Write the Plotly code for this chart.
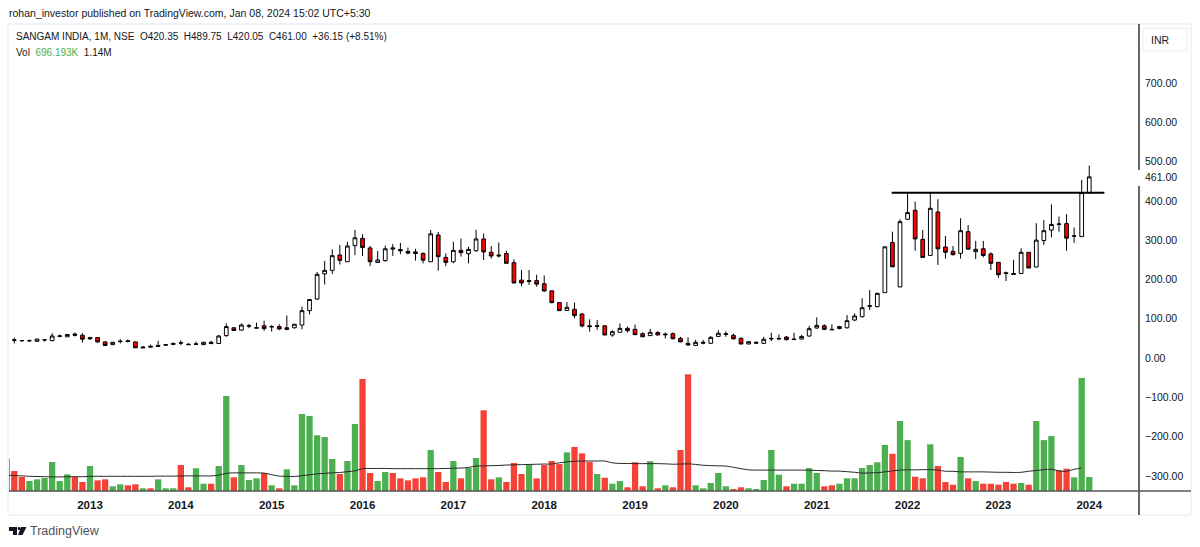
import plotly.graph_objects as go

# monthly candles, Mar 2012 .. Jan 2024 (x is bar number, TradingView spaces bars evenly)
opens = [45, 44, 44, 42.5, 46, 44, 55, 54, 61, 58, 52, 52, 41, 34, 43, 44, 41, 28, 30, 32, 34, 37, 39, 35, 36, 34, 40, 37, 57, 77, 71, 81, 76, 82, 79, 80,
         77, 77, 84, 120.5, 150, 214, 223, 262, 245, 286, 304.5, 280, 243, 247.7, 277, 276, 271, 270, 266, 245, 313, 256, 245, 274, 265.5, 273, 303, 269,
         262, 266, 242.6, 198.5, 197, 197, 189, 171, 141, 121, 124, 112, 82, 82, 82, 58.6, 65.4, 75.5, 73, 62, 57, 65, 61, 62, 50, 37.4, 32, 40, 37.4, 55,
         62, 57.7, 50, 35.7, 40, 37.4, 50, 50, 53.5, 48.4, 48.4, 56, 76.4, 82, 73, 75, 77, 96.7, 105, 133, 130.7, 166.4, 294, 180.8, 353, 376, 302, 261,
         371.6, 282.5, 271.5, 266.4, 321.5, 270.7, 278, 265, 243.5, 217, 215, 215, 269, 231.6, 299, 325.6, 340, 342, 310, 309, 420.35]
highs = [52, 46, 47, 49, 48, 63, 60, 61, 65, 63, 54, 53, 42, 41, 48, 47, 42, 31, 34, 44, 36, 40, 45, 38, 42, 41, 44, 58, 88, 78, 88, 87, 90, 95, 84, 86,
         108, 86, 131, 150, 219, 247, 276.5, 287.6, 296, 326, 315, 285, 272, 286, 290, 293, 281, 278, 269, 326, 321, 266, 296, 304, 283, 326, 317, 285,
         294, 273, 251, 224, 224, 212, 210, 171, 141, 142.5, 141, 114, 98.4, 97, 83, 71, 88, 80, 85, 65.4, 74, 68, 65, 65, 54, 52.6, 46, 46, 56, 71, 68,
         62, 52.6, 42, 42, 54, 64.5, 60, 56, 64.5, 58.6, 82, 103.5, 86, 86, 82, 109.5, 113.7, 152, 173, 166, 283, 321.5, 353, 419, 398, 326, 419, 404,
         310.5, 285, 355.5, 338.5, 298, 298, 269, 243.5, 220, 250, 279, 269, 343, 351, 391, 360, 366, 332, 453, 489.75]
lows = [37, 41, 41, 42, 42, 43, 53, 54, 55, 39, 46, 39, 31, 33, 37, 40, 26, 26, 28, 29, 32, 33, 33, 33, 33, 33, 35, 36, 54, 69, 70, 76, 76, 69, 67, 71,
        71, 75, 73, 111, 148, 187, 214, 238, 245, 262, 259.6, 234, 243, 245, 260, 264, 264, 248, 241, 245, 222, 234, 241, 258, 241, 270.6, 249.4, 253,
        256, 241, 190, 183, 186, 181.5, 169, 139, 120.5, 120, 101, 78, 67, 72, 58, 54, 65, 65, 58.6, 54, 56, 58, 50, 47.6, 41, 33, 31.4, 35, 38, 53.5, 54,
        47, 35, 35, 36, 35.7, 43, 45, 45, 47, 47, 54, 74.7, 71, 71, 73, 75, 94, 103.5, 122, 129, 166, 232, 182, 351, 273, 256, 261, 237, 253, 261, 253,
        277, 252, 256, 224, 204, 196, 212, 215, 229, 231, 288, 307, 321.5, 273, 293, 309, 420.05]
closes = [46, 44.5, 44, 48, 46.5, 56, 56, 60, 58, 48, 49, 41, 32, 40, 42, 42, 26, 26, 28, 30, 33, 35, 38, 34, 35, 40, 37, 56, 80, 70, 84, 82, 77, 75, 80, 74,
          73, 86, 120.5, 149, 213, 223, 260.4, 248.5, 285, 306, 281, 245, 249.4, 278, 280, 273, 267, 266, 249, 316, 258, 243.5, 274, 268, 276.5, 303, 270, 259.6,
          260, 241, 191, 191, 195, 188, 170.5, 141, 120.5, 129, 108, 81.5, 80, 81, 58.6, 67, 75.5, 69.6, 59.4, 54, 65.4, 58.6, 59.4, 49, 41, 33, 40, 38, 52.6, 63,
          60, 49, 35.7, 41.6, 38, 47.6, 49, 49, 46.7, 47, 55, 74.7, 83, 73, 72, 80, 95, 107, 128, 132, 164.6, 283, 232, 347, 370, 303, 256, 381,
          278, 269, 263, 324, 277, 276.6, 261, 241, 212, 215, 213, 269, 229, 300, 324, 340, 341, 305, 311, 421, 461]

# volume in thousands, first bar is the one cut off at the left edge
volumes = [1610, 994, 696, 497, 580, 646, 1440, 497, 830, 696, 447, 1240, 530, 580, 234, 333, 283, 333, 134, 134, 580, 134, 134, 1290, 184, 1130, 363, 363, 1240, 4720,
           680, 1290, 547, 630, 895, 283, 134, 1080, 283, 3830, 3730, 2770, 2680, 1590, 845, 1490, 3330, 5570, 895, 497, 944, 895, 630, 530, 630, 680, 2040, 944, 447, 1490,
           630, 1140, 1640, 4010, 580, 680, 447, 1390, 845, 1290, 630, 1290, 1490, 1340, 1920, 2190, 1870, 1440, 845, 660, 363, 497, 184, 1430, 234, 1480, 134, 283, 184, 2040,
           5800, 283, 134, 398, 895, 234, 100, 184, 134, 100, 547, 2040, 810, 234, 363, 363, 1140, 895, 234, 283, 363, 630, 630, 1140, 1290, 1430, 2290, 1850, 3480, 2530,
           710, 630, 2320, 1240, 447, 313, 1690, 630, 497, 363, 363, 313, 447, 363, 398, 313, 3480, 2530, 2730, 1030, 1110, 680, 5620, 696]
vol_dirs = ("G"
            "RRGGGGGGRR" "GRRGGRRGRG" "GGRRGGRGGR" "GGGRGRGG"
            "GGGGGRGGRR" "GGRRRRRGRR" "GRGGRRGRRR" "GRRRRGRRR"
            "GRGGRRRGRG" "RRRGGGGGRR" "GGGGGRGGGG" "RRGGGGG"
            "GGRGGRRGRR" "RGRGRRRRRG" "RGGGRRGGG")
ma_volumes = [780, 770, 750, 730, 720, 710, 700, 700, 710, 710, 710, 730, 730, 730, 730, 730, 730, 730, 730, 730, 740, 740, 740, 750, 750, 750, 750, 750, 790, 880,
              900, 900, 900, 900, 890, 810, 740, 730, 720, 760, 810, 850, 880, 900, 920, 960, 1000, 1110, 1120, 1120, 1120, 1110, 1110, 1110, 1110, 1110, 1110, 1110, 1120, 1130,
              1140, 1170, 1240, 1250, 1260, 1270, 1290, 1300, 1310, 1320, 1330, 1340, 1340, 1400, 1450, 1480, 1490, 1490, 1490, 1490, 1400, 1370, 1370, 1360, 1360, 1360, 1360, 1350, 1330, 1340,
              1350, 1320, 1280, 1260, 1250, 1240, 1180, 1110, 1050, 1040, 1040, 1040, 1040, 1040, 1040, 1040, 1030, 1020, 1010, 990, 990, 960, 930, 890, 900, 910, 950, 1000, 1040, 1050,
              1050, 1060, 1060, 1040, 980, 980, 950, 950, 950, 950, 940, 930, 930, 920, 930, 980, 1020, 1060, 1080, 1000, 980, 1080, 1140]

year_bars = [10, 22, 34, 46, 58, 70, 82, 94, 106, 118, 130, 142]
year_labels = ["2013", "2014", "2015", "2016", "2017", "2018", "2019", "2020", "2021", "2022", "2023", "2024"]
price_ticks = [-300, -200, -100, 0, 100, 200, 300, 400, 461, 500, 600, 700]
price_labels = ["\u2212300.00", "\u2212200.00", "\u2212100.00", "0.00", "100.00", "200.00", "300.00", "400.00", "461.00", "500.00", "600.00", "700.00"]
trend_x = [115.9, 144]
trend_y = [420.6, 420.6]

# pane geometry in page pixels
W, H = 1200, 547
L, R, T, B = 9, 1139, 24, 491


def px(x):
    return (x - L) / (R - L)


def py(y):
    return (B - y) / (B - T)


def line(x0, y0, x1, y1, color, width):
    return dict(type="line", xref="paper", yref="paper", x0=px(x0), y0=py(y0), x1=px(x1), y1=py(y1),
                line=dict(color=color, width=width), layer="above")


def label(x, y, text, size=10.5, color="#131722"):
    return dict(xref="paper", yref="paper", x=px(x), y=py(y), text=text, showarrow=False, xanchor="left", yanchor="middle",
                font=dict(size=size, color=color), borderpad=0, borderwidth=0)


def path_from(points):
    return "M" + " L".join(f"{px(a):.5f},{py(b):.5f}" for a, b in points) + " Z"


n_candles = len(opens)
candle_x = list(range(n_candles))
vol_x = list(range(-1, n_candles))

fig = go.Figure()

fig.add_trace(go.Bar(
    x=vol_x, y=volumes, yaxis="y2",
    marker=dict(color=["#4CAF50" if d == "G" else "#F44336" for d in vol_dirs], line_width=0),
    hoverinfo="skip", showlegend=False,
))
fig.add_trace(go.Scatter(
    x=vol_x, y=ma_volumes, yaxis="y2", mode="lines",
    line=dict(color="#2a2a2a", width=1, shape="spline"), hoverinfo="skip", showlegend=False,
))
fig.add_trace(go.Candlestick(
    x=candle_x, open=opens, high=highs, low=lows, close=closes,
    increasing=dict(fillcolor="#FFFFFF", line=dict(color="#000000", width=1)),
    decreasing=dict(fillcolor="#FF0000", line=dict(color="#000000", width=1)),
    whiskerwidth=0, showlegend=False,
))
fig.add_trace(go.Scatter(
    x=trend_x, y=trend_y, mode="lines", line=dict(color="#000000", width=2), hoverinfo="skip", showlegend=False,
))

shapes = [
    # light frame round the chart
    line(8, 24, 1191, 24, "#F0F3FA", 2),
    line(8, 24, 8, 515, "#F0F3FA", 2),
    line(1191, 24, 1191, 515, "#F0F3FA", 2),
    line(8, 515, 1191, 515, "#F0F3FA", 2),
    # axis lines, the price axis stops around the last price label
    line(1139, 24, 1139, 170, "#000000", 1.2),
    line(1139, 186, 1139, 515, "#000000", 1.2),
    line(9, 491, 1191, 491, "#555555", 1.5),
    # INR box
    dict(type="rect", xref="paper", yref="paper", x0=px(1143), x1=px(1187), y0=py(28), y1=py(51),
         line=dict(color="#E9ECF3", width=1), fillcolor="#FFFFFF", layer="above"),
    # logo
    dict(type="path", xref="paper", yref="paper", line_width=0, fillcolor="#131722",
         path=path_from([(9, 527), (17, 527), (17, 535), (13, 535), (13, 531), (9, 531)])),
    dict(type="circle", xref="paper", yref="paper", line_width=0, fillcolor="#131722",
         x0=px(17.6), x1=px(20.6), y0=py(527), y1=py(530)),
    dict(type="path", xref="paper", yref="paper", line_width=0, fillcolor="#131722",
         path=path_from([(21, 527), (26.5, 527), (22.5, 535), (18, 535)])),
]

annotations = [
    label(9, 13, "rohan_investor published on TradingView.com, Jan 08, 2024 15:02 UTC+5:30"),
    label(16, 37, "SANGAM INDIA, 1M, NSE\u00a0\u00a0O420.35\u00a0\u00a0H489.75\u00a0\u00a0L420.05\u00a0\u00a0C461.00\u00a0\u00a0+36.15 (+8.51%)", size=10),
    label(16, 52, "Vol\u00a0\u00a0<span style='color:#4CAF50'>696.193K</span>\u00a0\u00a01.14M", size=10),
    label(1151, 40, "INR", size=10.5),
    label(30, 531, "TradingView", size=12.5, color="#50535E"),
]

fig.update_layout(
    width=W, height=H,
    margin=dict(l=L, r=W - R, t=T, b=H - B, autoexpand=False),
    paper_bgcolor="#FFFFFF", plot_bgcolor="#FFFFFF",
    font=dict(family="Liberation Sans", color="#131722"),
    bargap=0.17, boxgap=0.3,
    showlegend=False,
    shapes=shapes, annotations=annotations,
    xaxis=dict(
        range=[-0.7, 148.57], tickmode="array", tickvals=year_bars, ticktext=year_labels,
        showgrid=False, zeroline=False, showline=False, ticks="", rangeslider=dict(visible=False),
        ticklabelstandoff=5, tickfont=dict(size=11.5, color="#131722", weight="bold"),
    ),
    yaxis=dict(
        side="right", range=[-338.4, 850], tickmode="array", tickvals=price_ticks, ticktext=price_labels,
        showgrid=False, zeroline=False, showline=False, ticks="", ticklabelstandoff=5,
        tickfont=dict(size=10.5, color="#131722"),
    ),
    yaxis2=dict(overlaying="y", range=[0, 23210], visible=False),
)

# page body has a default margin, drop it so the chart sits at 0,0
fig.write_html("out.html", config=dict(displayModeBar=False), post_script="document.body.style.margin='0';")
